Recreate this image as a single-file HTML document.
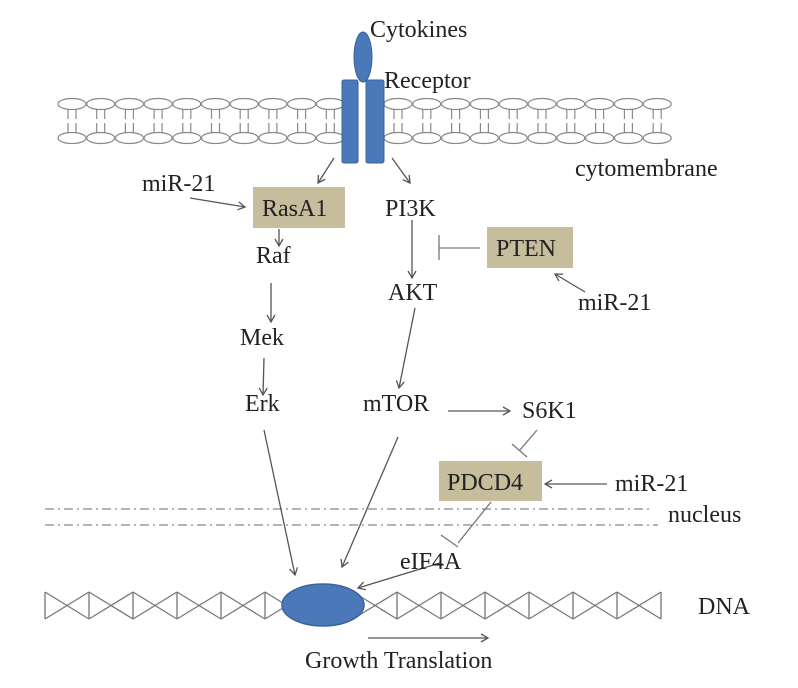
<!DOCTYPE html>
<html><head><meta charset="utf-8"><style>
html,body{margin:0;padding:0;background:#fff;}
svg{display:block;}
text{font-family:"Liberation Serif",serif;font-size:24px;fill:#222;}
</style></head><body>
<svg id="s" width="798" height="688" viewBox="0 0 798 688" xmlns="http://www.w3.org/2000/svg">
<defs>
<marker id="a" markerWidth="10" markerHeight="10" refX="8" refY="5" orient="auto" markerUnits="userSpaceOnUse">
<path d="M1,1 L8,5 L1,9" fill="none" stroke="#555" stroke-width="1.3"/>
</marker>
</defs>
<g id="mem" stroke="#888" stroke-width="1.2" fill="#fff"></g>
<g id="dna" stroke="#777" stroke-width="1.3" fill="none"></g>
<!-- receptor -->
<rect x="342" y="80" width="16" height="83" rx="2" fill="#4a78b8" stroke="#3a649c"/>
<rect x="366" y="80" width="18" height="83" rx="2" fill="#4a78b8" stroke="#3a649c"/>
<ellipse cx="363" cy="57" rx="9" ry="25" fill="#4a78b8" stroke="#3a649c"/>
<!-- boxes -->
<rect x="253" y="187" width="92" height="41" fill="#c6bd9d"/>
<rect x="487" y="227" width="86" height="41" fill="#c6bd9d"/>
<rect x="439" y="461" width="103" height="40" fill="#c6bd9d"/>
<!-- dashed nucleus -->
<line x1="45" y1="509" x2="650" y2="509" stroke="#888" stroke-width="1.2" stroke-dasharray="9,4,2,4"/>
<line x1="45" y1="525" x2="658" y2="525" stroke="#888" stroke-width="1.2" stroke-dasharray="9,4,2,4"/>
<ellipse cx="323" cy="605" rx="41" ry="21" fill="#4a78b8" stroke="#3a649c" stroke-width="1.5"/>
<g stroke="#555" stroke-width="1.3" fill="none" marker-end="url(#a)">
<line x1="334" y1="158" x2="318" y2="183"/>
<line x1="392" y1="158" x2="410" y2="183"/>
<line x1="190" y1="198" x2="245" y2="207"/>
<line x1="279" y1="229" x2="279" y2="246"/>
<line x1="412" y1="220" x2="412" y2="278"/>
<line x1="585" y1="292" x2="555" y2="274"/>
<line x1="271" y1="283" x2="271" y2="322"/>
<line x1="264" y1="358" x2="263" y2="395"/>
<line x1="415" y1="308" x2="399" y2="388"/>
<line x1="448" y1="411" x2="510" y2="411"/>
<line x1="607" y1="484" x2="545" y2="484"/>
<line x1="264" y1="430" x2="295" y2="575"/>
<line x1="398" y1="437" x2="342" y2="567"/>
<line x1="440" y1="563" x2="358" y2="588"/>
<line x1="368" y1="638" x2="488" y2="638"/>
</g>
<g stroke="#777" stroke-width="1.3">
<line x1="480" y1="248" x2="439" y2="248"/><line x1="439" y1="235" x2="439" y2="260"/>
<line x1="537" y1="430" x2="520" y2="450"/><line x1="512" y1="444" x2="527" y2="457"/>
<line x1="491" y1="502" x2="458" y2="543"/><line x1="441" y1="535" x2="458" y2="547"/>
</g>
<text x="370" y="37">Cytokines</text>
<text x="384" y="88">Receptor</text>
<text x="575" y="176">cytomembrane</text>
<text x="142" y="191">miR-21</text>
<text x="262" y="216">RasA1</text>
<text x="385" y="216">PI3K</text>
<text x="496" y="256">PTEN</text>
<text x="256" y="263">Raf</text>
<text x="388" y="300">AKT</text>
<text x="578" y="310">miR-21</text>
<text x="240" y="345">Mek</text>
<text x="245" y="411">Erk</text>
<text x="363" y="411">mTOR</text>
<text x="522" y="418">S6K1</text>
<text x="447" y="490">PDCD4</text>
<text x="615" y="491">miR-21</text>
<text x="668" y="522">nucleus</text>
<text x="400" y="569">eIF4A</text>
<text x="698" y="614">DNA</text>
<text x="305" y="668">Growth Translation</text>
</svg>
<script>
var ns="http://www.w3.org/2000/svg",m=document.getElementById("mem"),d=document.getElementById("dna");
function el(p,t,a){var e=document.createElementNS(ns,t);for(var k in a)e.setAttribute(k,a[k]);p.appendChild(e);}
var cs=[];for(var i=0;i<10;i++)cs.push(72+28.7*i);for(i=0;i<10;i++)cs.push(398+28.8*i);
cs.forEach(function(c){
[c-4,c+4].forEach(function(x){el(m,"line",{x1:x,y1:109,x2:x,y2:119});el(m,"line",{x1:x,y1:123,x2:x,y2:133});});
});
cs.forEach(function(c){el(m,"ellipse",{cx:c,cy:104,rx:14,ry:5.5});el(m,"ellipse",{cx:c,cy:138,rx:14,ry:5.5});});
for(var x=45;x<660;x+=44){
el(d,"line",{x1:x,y1:592,x2:x,y2:619});
el(d,"line",{x1:x,y1:592,x2:x+44,y2:619});
el(d,"line",{x1:x,y1:619,x2:x+44,y2:592});
}
el(d,"line",{x1:661,y1:592,x2:661,y2:619});
</script>
</body></html>
